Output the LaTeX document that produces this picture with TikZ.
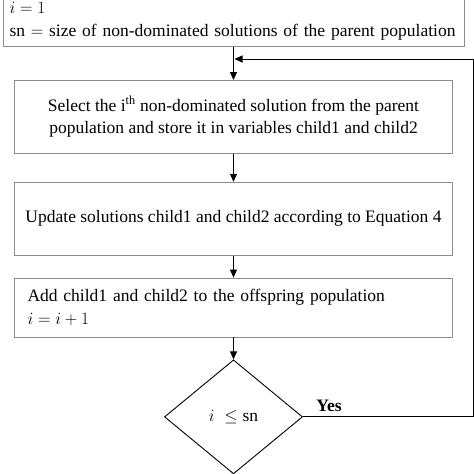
\documentclass[tikz,border=0pt]{standalone}
\usepackage{fontspec}
\setmainfont{Liberation Serif}
\usetikzlibrary{positioning, shapes.geometric, arrows.meta}

\begin{document}
\begin{tikzpicture}[x=1pt, y=1pt, font=\fontsize{17.5}{22.5}\selectfont,
  box/.style={draw=black!45, line width=0.8pt, minimum width=438pt, minimum height=73pt, align=center},
  leftbox/.style={box, minimum height=59pt, align=left, text width=412pt},
  flow/.style={arrows={-Triangle[length=8pt, width=7pt]}, line width=0.9pt}]
\useasboundingbox (0,0) rectangle (474,-474);

\node  (1)[leftbox, minimum width=461pt, minimum height=51pt, text width=448pt, anchor=south] at (233.5,-47) {$i = 1$\\sn $=$ size of non-dominated solutions of the parent population};
\node  (2)[box] [below = 33pt of 1] {Select the i\textsuperscript{th} non-dominated solution from the parent\\population and store it in variables child1 and child2};
\node  (3)[box] [below = 28pt of 2] {Update solutions child1 and child2 according to Equation 4};
\node  (4)[leftbox] [below = 22pt of 3] {Add child1 and child2 to the offspring population\\$i = i + 1$};
\node  (5)[draw, diamond, line width=0.9pt, minimum width=138pt, minimum height=114pt, inner sep=0pt] [below = 22pt of 4] {$i\;\leq\;$sn};
\node  (6)[font=\fontsize{17.5}{22.5}\selectfont\bfseries, anchor=south west] at ([xshift=10pt, yshift=2pt]5.east) {Yes};

\coordinate (r) at (473,-59);
\draw[flow] (1) -- (2);
\draw[flow] (2) -- (3);
\draw[flow] (3) -- (4);
\draw[flow] (4) -- (5);
\draw[flow] (5.east) -| (r) -- ([xshift=1pt]1.south |- r);

\end{tikzpicture}
\end{document}
